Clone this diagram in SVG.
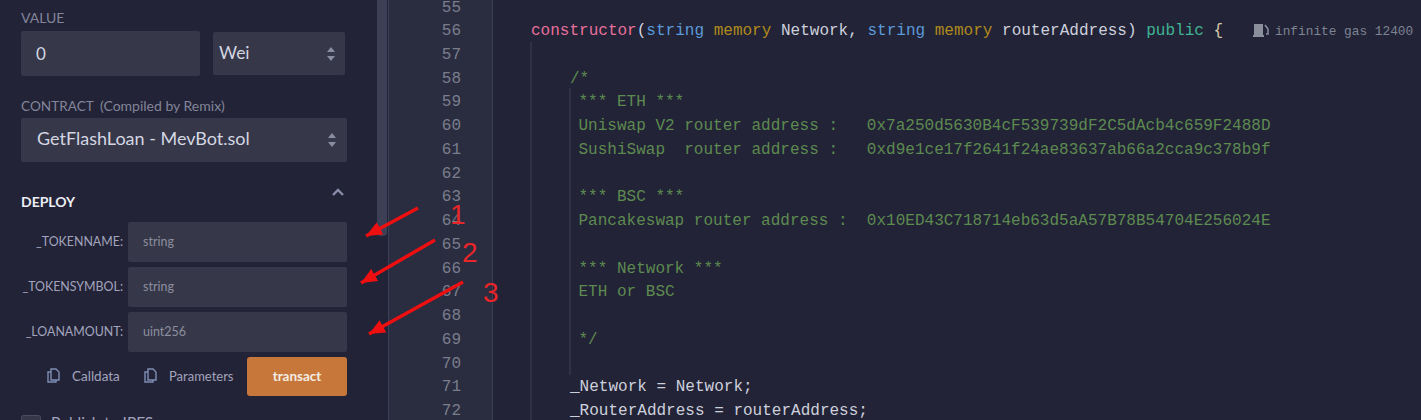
<svg xmlns="http://www.w3.org/2000/svg" width="1421" height="420" viewBox="0 0 1421 420">
<style>
text{white-space:pre}
.ui{font-family:"Lato","Noto Sans",sans-serif}
.m{font-family:"Liberation Mono","DejaVu Sans Mono",monospace;font-size:16px;letter-spacing:.01px}
.c{fill:#5d8a50}
.ln{fill:#7a7e8c;text-anchor:end}
.box{fill:#363849}
.lab{font-size:12.4px;fill:#a2a3bd;text-anchor:end}
.ph{font-size:12.5px;fill:#8c8e9e}
.sel{fill:#8a8ca0}
.w{fill:#cdd0dc}
.cap{font-size:14px;fill:#83859a}
.red{font-family:"Liberation Sans",sans-serif;font-size:28px;fill:#e8262a}
.arr{stroke:#ee0f10;stroke-width:3.400;fill:none;marker-end:url(#ah)}
.ico{fill:none;stroke:#7f8fb5;stroke-width:1.4}
</style>
<defs>
<marker id="ah" markerUnits="userSpaceOnUse" markerWidth="18" markerHeight="14" refX="16" refY="7" orient="auto"><path d="M0 0L16 7L0 14z" fill="#ee0f10"/></marker>
</defs>
<rect width="1421" height="420" fill="#222336"/>
<g id="side-panel">
<rect x="377" y="-10" width="10" height="246" rx="4" fill="#3c3f55"/>
<rect x="388" y="0" width="1" height="420" fill="#3c3f55"/>
</g>
<g id="value" class="ui">
<text x="21" y="23" class="cap">VALUE</text>
<rect x="21" y="31" width="179" height="45" rx="2" class="box"/>
<text x="36" y="60" font-size="17" fill="#d4d6e2">0</text>
<rect x="213" y="32" width="132" height="43" rx="2" class="box"/>
<text x="219" y="59" font-size="17.5" fill="#d4d6e2">Wei</text>
<path d="M327 52l4-5 4 5zM327 56l4 5 4-5z" class="sel"/>
</g>
<g id="contract" class="ui">
<text x="21" y="111" class="cap" style="font-size:13.600px">CONTRACT</text>
<text x="100" y="111" font-size="14" fill="#83859a">(Compiled by Remix)</text>
<rect x="21" y="118" width="326" height="44" rx="2" class="box"/>
<text x="37" y="145" font-size="18" fill="#d4d6e2">GetFlashLoan - MevBot.sol</text>
<path d="M328 138l4-5 4 5zM328 142l4 5 4-5z" class="sel"/>
</g>
<g id="deploy" class="ui">
<text x="21" y="207" font-size="14" font-weight="700" fill="#eceef5">DEPLOY</text>
<path d="M333 195l5-5 5 5" fill="none" stroke="#8a8ca8" stroke-width="2.4"/>
</g>
<g id="tokenname" class="ui">
<text x="123" y="246" class="lab">_TOKENNAME:</text>
<rect x="128" y="222" width="219" height="40" rx="2" class="box"/>
<text x="143" y="246" class="ph">string</text>
</g>
<g id="tokensymbol" class="ui">
<text x="123" y="291" class="lab">_TOKENSYMBOL:</text>
<rect x="128" y="267" width="219" height="40" rx="2" class="box"/>
<text x="143" y="291" class="ph">string</text>
</g>
<g id="loanamount" class="ui">
<text x="123" y="336" class="lab">_LOANAMOUNT:</text>
<rect x="128" y="312" width="219" height="40" rx="2" class="box"/>
<text x="143" y="336" class="ph">uint256</text>
</g>
<g id="actions" class="ui">
<path d="M51 372h-3v10h8v-2M51 369h5l3 3v8h-8z" class="ico"/>
<text x="72" y="381" font-size="13.500" fill="#a2a3bd">Calldata</text>
<path d="M148 372h-3v10h8v-2M148 369h5l3 3v8h-8z" class="ico"/>
<text x="169" y="381" font-size="13" fill="#a2a3bd">Parameters</text>
<rect x="247" y="357" width="100" height="39" rx="3" fill="#c8773a"/>
<text x="297" y="381" font-size="13.5" font-weight="700" fill="#f3ece4" text-anchor="middle">transact</text>
</g>
<g id="publish" class="ui">
<rect x="21.500" y="415.500" width="19" height="12" rx="2" fill="#363849" stroke="#4a4c60"/>
<text x="51" y="428" font-size="15.500" fill="#a2a3bd">Publish to IPFS</text>
</g>
<g id="gutter">
<rect x="389" y="0" width="103" height="420" fill="#2a2c40"/>
<rect x="492" y="0" width="1" height="420" fill="#3c3f52"/>
<g class="m ln">
<text x="461" y="12">55</text><text x="461" y="35">56</text><text x="461" y="59">57</text><text x="461" y="83">58</text><text x="461" y="106">59</text><text x="461" y="130">60</text><text x="461" y="154">61</text><text x="461" y="178">62</text><text x="461" y="201">63</text><text x="461" y="225">64</text><text x="461" y="249">65</text><text x="461" y="273">66</text><text x="461" y="296">67</text><text x="461" y="320">68</text><text x="461" y="344">69</text><text x="461" y="368">70</text><text x="461" y="391">71</text><text x="461" y="415">72</text>
</g>
</g>
<g id="code">
<path d="M531 42V420M570 88V375" stroke="#3f4154" fill="none"/>
<text class="m" x="531" y="35"><tspan fill="#e76f9b">constructor</tspan><tspan fill="#d4d6e2">(</tspan><tspan fill="#5a9ad8">string</tspan> <tspan fill="#b08a1c">memory</tspan><tspan fill="#cdd0dc"> Network, </tspan><tspan fill="#5a9ad8">string</tspan> <tspan fill="#b08a1c">memory</tspan><tspan fill="#cdd0dc"> routerAddress) </tspan><tspan fill="#3fb394">public</tspan><tspan fill="#d8c9a8"> {</tspan></text>
<g class="m c">
<text x="570" y="83">/*</text>
<text x="578.500" y="106">*** ETH ***</text>
<text x="578.500" y="130">Uniswap V2 router address :   0x7a250d5630B4cF539739dF2C5dAcb4c659F2488D</text>
<text x="578.500" y="154">SushiSwap  router address :   0xd9e1ce17f2641f24ae83637ab66a2cca9c378b9f</text>
<text x="578.500" y="201">*** BSC ***</text>
<text x="578.500" y="225">Pancakeswap router address :  0x10ED43C718714eb63d5aA57B78B54704E256024E</text>
<text x="578.500" y="273">*** Network ***</text>
<text x="578.500" y="296">ETH or BSC</text>
<text x="578.500" y="344">*/</text>
</g>
<text class="m w" x="570" y="391">_Network = Network;</text>
<text class="m w" x="570" y="415">_RouterAddress = routerAddress;</text>
</g>
<g id="gas-hint">
<path d="M1254 24h9v11h-9zM1253 35h11v2h-11z" fill="#8a8f9c"/>
<path d="M1265 25l3 4v5h-2" fill="none" stroke="#8a8f9c" stroke-width="1.500"/>
<text x="1275" y="35" font-family="Liberation Mono,monospace" font-size="12.8" fill="#7d8494">infinite gas 12400</text>
</g>
<g id="connectors">
<path class="arr" d="M418 208L366 236"/>
<path class="arr" d="M435 240L361 283"/>
<path class="arr" d="M463 282L369 334"/>
</g>
<g id="num1"><text class="red" x="450" y="224">1</text></g>
<g id="num2"><text class="red" x="462" y="262">2</text></g>
<g id="num3"><text class="red" x="483" y="302">3</text></g>
</svg>
